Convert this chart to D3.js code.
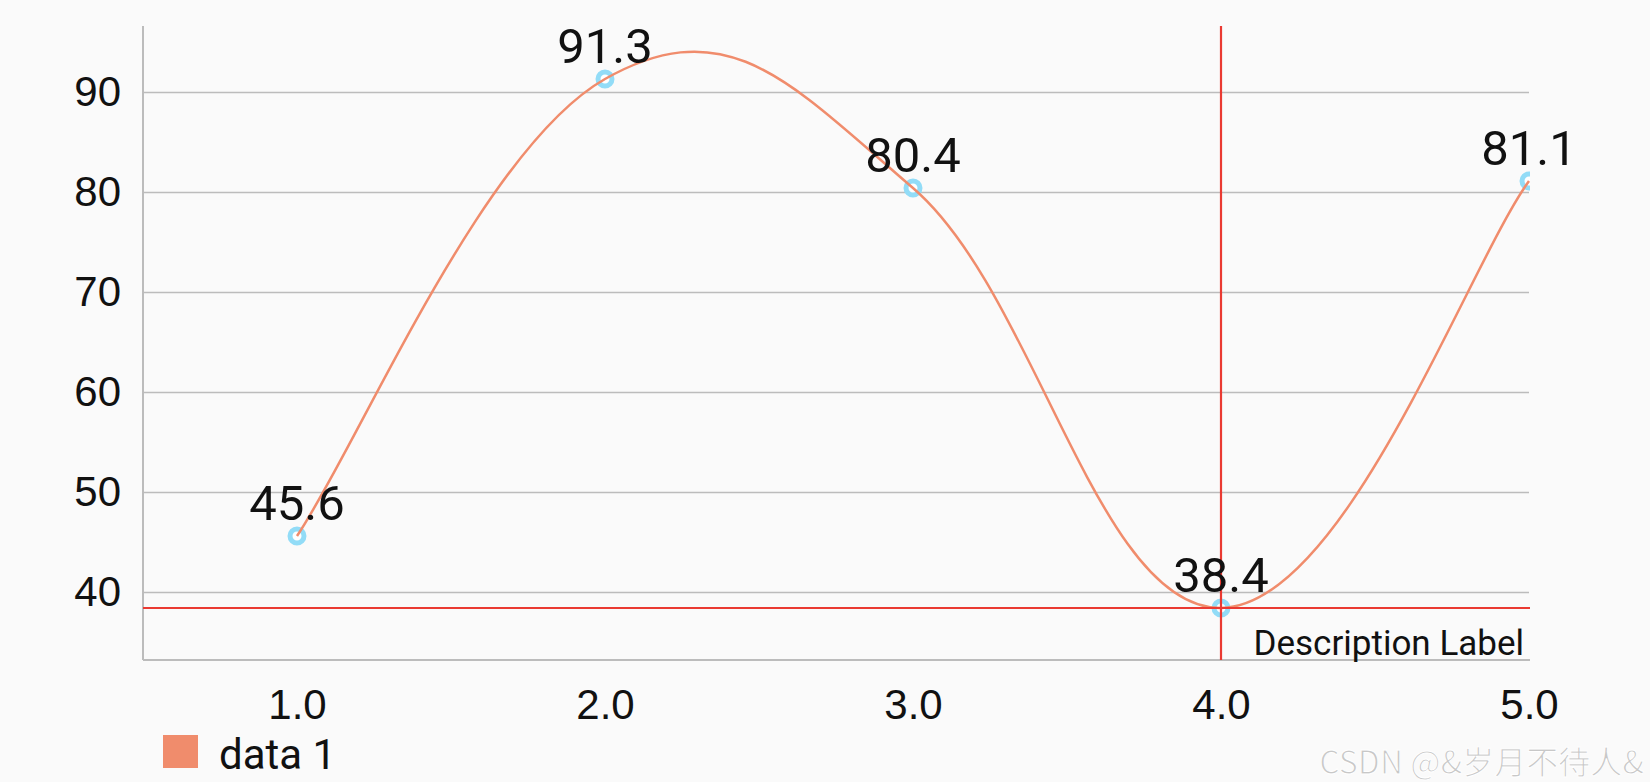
<!DOCTYPE html>
<html>
<head>
<meta charset="utf-8">
<script src="https://cdn.jsdelivr.net/npm/d3@7"></script>
<style>
  html, body { margin: 0; padding: 0; background: #fafafa; }
  svg { display: block; font-family: Roboto, "Noto Sans", sans-serif; }
</style>
</head>
<body>
<svg id="chart"></svg>
<script>
// Data
const xValues = [1, 2, 3, 4, 5];
const yValues = [45.6, 91.3, 80.4, 38.4, 81.1];
const yTicks = [40, 50, 60, 70, 80, 90];
const xTicks = [1, 2, 3, 4, 5];
const limitX = 4.0;
const limitY = 38.4;
const seriesName = 'data 1';
const description = 'Description Label';
const watermark = 'CSDN @&岁月不待人&';

const width = 1650;
const height = 782;
const plotLeft = 143, plotRight = 1529, plotTop = 26, plotBottom = 660;

const svg = d3.select('#chart')
    .attr('width', width)
    .attr('height', height)
    .attr('viewBox', [0, 0, width, height]);

const x = d3.scaleLinear().domain([0.5, 5.0]).range([plotLeft, plotRight]);
const y = d3.scaleLinear().domain([33.2, 96.6]).range([plotBottom, plotTop]);

// Curva cúbica no estilo MPAndroidChart (intensidade 0.2)
function curveCubicIntensity(k) {
    return function(context) {
        return {
            areaStart() {}, areaEnd() {},
            lineStart() { this._p = []; },
            point(px, py) { this._p.push([px, py]); },
            lineEnd() {
                const p = this._p, n = p.length;
                if (!n) return;
                context.moveTo(p[0][0], p[0][1]);
                for (let j = 1; j < n; j++) {
                    const pp = p[Math.max(j - 2, 0)], pr = p[j - 1], cu = p[j], nx = p[Math.min(j + 1, n - 1)];
                    context.bezierCurveTo(
                        pr[0] + (cu[0] - pp[0]) * k, pr[1] + (cu[1] - pp[1]) * k,
                        cu[0] - (nx[0] - pr[0]) * k, cu[1] - (nx[1] - pr[1]) * k,
                        cu[0], cu[1]);
                }
            }
        };
    };
}

svg.append('defs').append('clipPath').attr('id', 'plot-clip')
    .append('rect')
    .attr('x', plotLeft).attr('y', 0)
    .attr('width', plotRight - plotLeft + 1).attr('height', plotBottom);

// Grid + y labels
const yAxis = svg.append('g')
    .attr('transform', `translate(${plotLeft},0)`)
    .call(d3.axisLeft(y).tickValues(yTicks).tickSize(-(plotRight - plotLeft)).tickPadding(22));
yAxis.select('.domain').remove();
yAxis.selectAll('.tick line').attr('stroke', '#bcbcbc').attr('stroke-width', 1.5);
yAxis.selectAll('.tick text').attr('fill', '#111').style('font-size', '42px');

// X labels
const xAxis = svg.append('g')
    .attr('transform', `translate(0,${plotBottom})`)
    .call(d3.axisBottom(x).tickValues(xTicks).tickFormat(d3.format('.1f')).tickSize(0).tickPadding(29));
xAxis.select('.domain').remove();
xAxis.selectAll('.tick text').attr('fill', '#111').style('font-size', '42px');

// Axis lines
svg.append('line')
    .attr('x1', plotLeft).attr('x2', plotLeft).attr('y1', plotTop).attr('y2', plotBottom)
    .attr('stroke', '#bcbcbc').attr('stroke-width', 2);
svg.append('line')
    .attr('x1', plotLeft).attr('x2', plotRight + 1).attr('y1', plotBottom).attr('y2', plotBottom)
    .attr('stroke', '#bcbcbc').attr('stroke-width', 2);

const points = xValues.map((v, i) => ({ x: v, y: yValues[i] }));
const plot = svg.append('g').attr('clip-path', 'url(#plot-clip)');

// Circles
plot.selectAll('circle.pt')
    .data(points)
    .join('circle')
    .attr('class', 'pt')
    .attr('cx', d => x(d.x))
    .attr('cy', d => y(d.y))
    .attr('r', 7)
    .attr('fill', '#ffffff')
    .attr('stroke', '#92dcf7')
    .attr('stroke-width', 5);

// Line
const line = d3.line()
    .x(d => x(d.x))
    .y(d => y(d.y))
    .curve(curveCubicIntensity(0.2));

plot.append('path')
    .datum(points)
    .attr('d', line)
    .attr('fill', 'none')
    .attr('stroke', '#f08c6c')
    .attr('stroke-width', 2.5);

// Limit lines
svg.append('line')
    .attr('x1', plotLeft).attr('x2', plotRight + 1)
    .attr('y1', y(limitY)).attr('y2', y(limitY))
    .attr('stroke', '#ea3a32').attr('stroke-width', 2.2);
svg.append('line')
    .attr('x1', x(limitX)).attr('x2', x(limitX))
    .attr('y1', plotTop).attr('y2', plotBottom)
    .attr('stroke', '#ea3a32').attr('stroke-width', 2.2);

// Value labels
svg.selectAll('text.val')
    .data(points)
    .join('text')
    .attr('class', 'val')
    .attr('x', d => x(d.x))
    .attr('y', d => y(d.y) - 16)
    .attr('text-anchor', 'middle')
    .attr('fill', '#111')
    .style('font-size', '49px')
    .text(d => d.y.toFixed(1));

// Description
svg.append('text')
    .attr('x', 1524).attr('y', 655)
    .attr('text-anchor', 'end')
    .attr('fill', '#111')
    .style('font-size', '35px')
    .text(description);

// Legend
svg.append('rect')
    .attr('x', 163).attr('y', 735)
    .attr('width', 35).attr('height', 33)
    .attr('fill', '#f08c6c');
svg.append('text')
    .attr('x', 219).attr('y', 769)
    .attr('fill', '#111')
    .style('font-size', '42px')
    .text(seriesName);

// Watermark
svg.append('text')
    .attr('x', 1644).attr('y', 774)
    .attr('text-anchor', 'end')
    .attr('fill', '#c8c8c8')
    .attr('stroke', '#ffffff')
    .attr('stroke-width', 1)
    .style('font-family', '"Noto Sans CJK SC", "Noto Sans", sans-serif')
    .style('font-size', '32px')
    .text(watermark);
</script>
</body>
</html>
